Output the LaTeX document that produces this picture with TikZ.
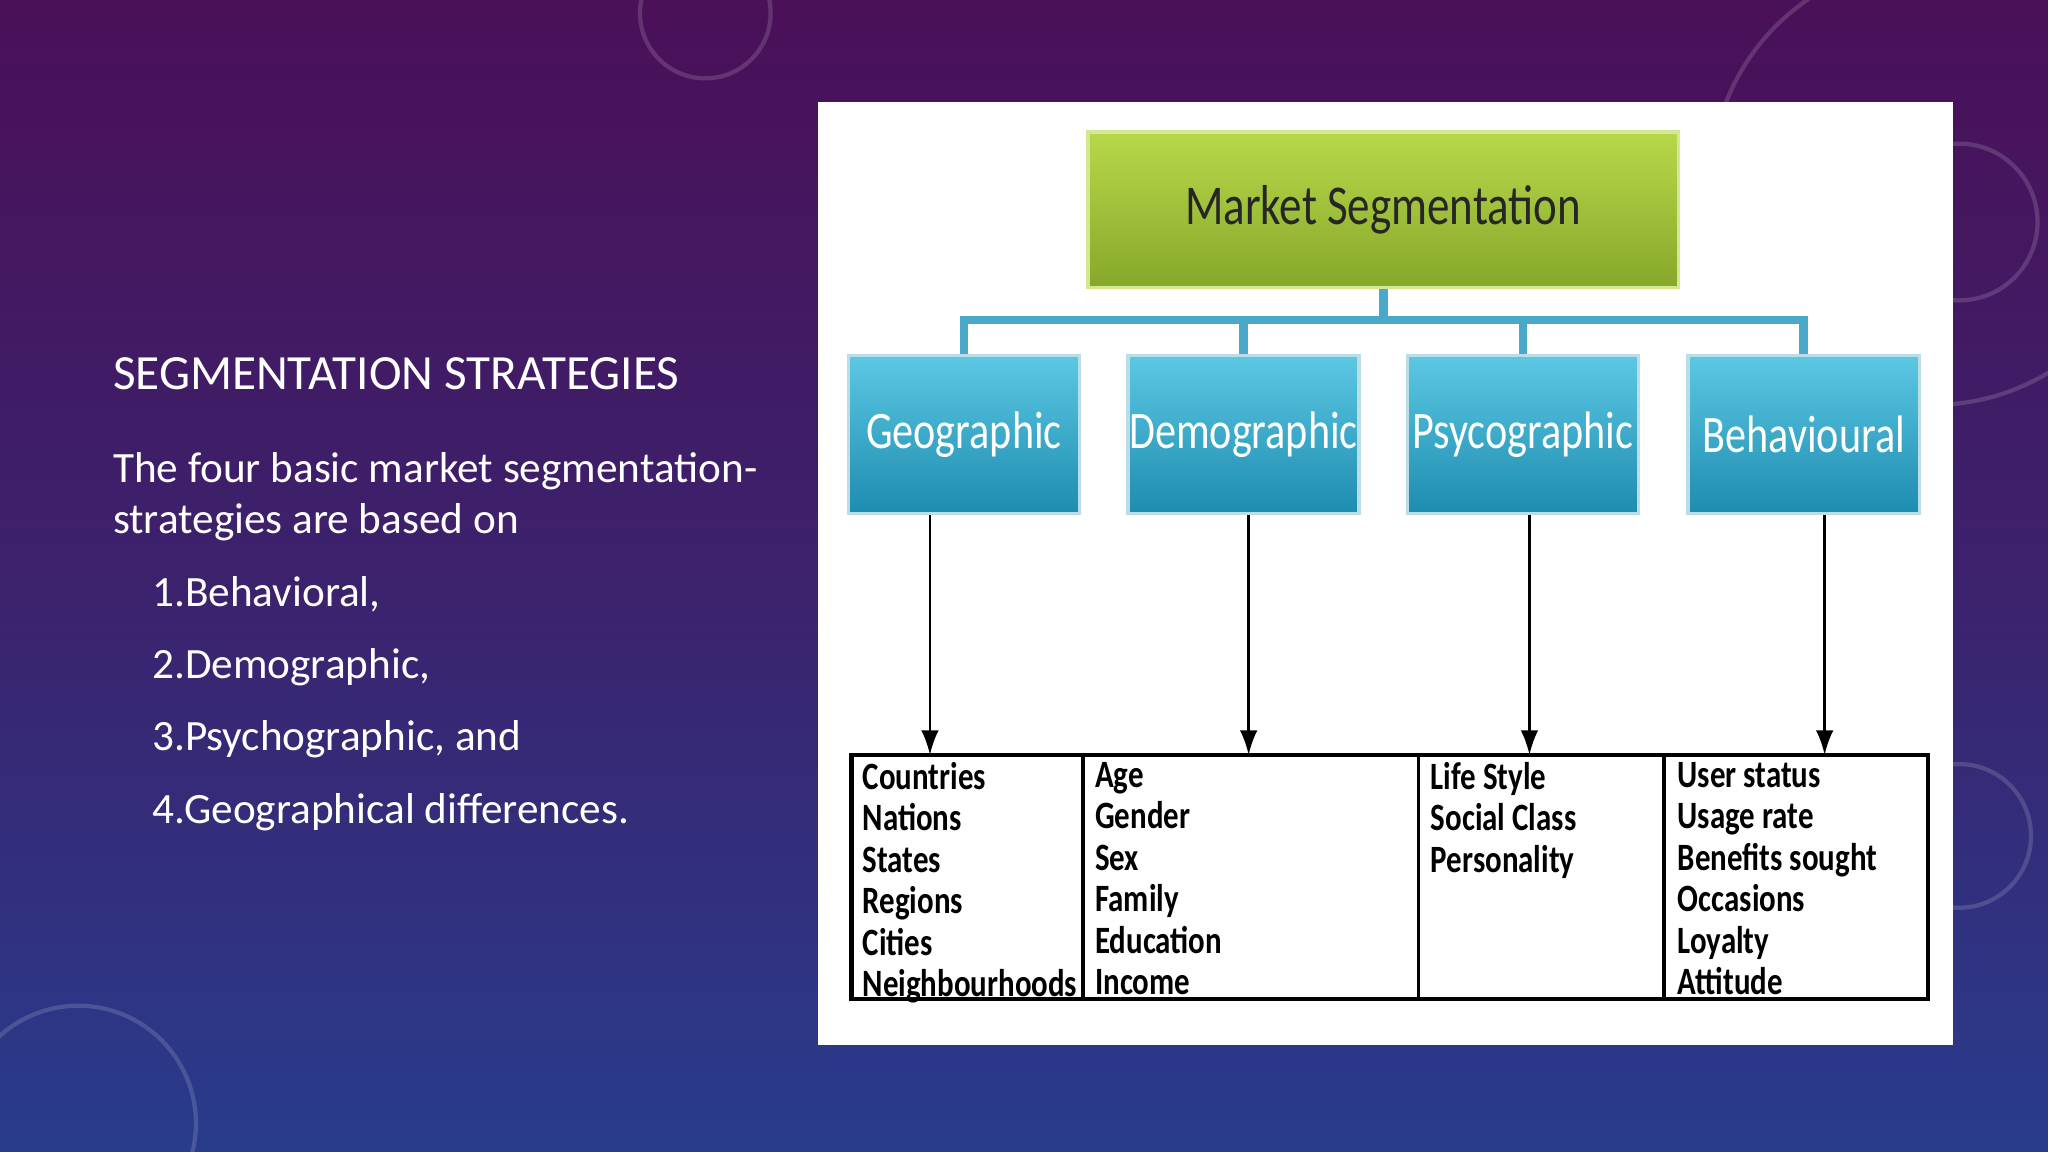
\documentclass[tikz,border=0pt]{standalone}
\usepackage{fontspec}
\setmainfont{Carlito}
\newfontfamily\cond[FakeStretch=0.8]{Carlito}
\usetikzlibrary{arrows.meta}
\definecolor{bgtop}{HTML}{4A1058}
\definecolor{bgbot}{HTML}{283C8C}
\definecolor{gtop}{HTML}{B8D84A}
\definecolor{gbot}{HTML}{86A82A}
\definecolor{btop}{HTML}{5CC8E4}
\definecolor{bbot}{HTML}{1E8CB0}
\definecolor{conn}{HTML}{4AA8C8}
\tikzset{
  catbox/.style={draw=white!70!bbot,line width=1pt,top color=btop,bottom color=bbot,text=white,font=\cond\fontsize{15}{17}\selectfont,inner sep=0pt},
  cell/.style={anchor=north west,align=left,font=\cond\bfseries\fontsize{11}{11.8}\selectfont,inner sep=0pt},
  lefttext/.style={anchor=west,text=white,font=\fontsize{12.3}{14.5}\selectfont,inner sep=0pt},
  deco/.style={white,opacity=0.15,line width=1.2pt}
}
\begin{document}
\begin{tikzpicture}[x=0.013061cm,y=-0.013061cm]
\shade[top color=bgtop,bottom color=bgbot,middle color=bgtop!60!bgbot] (0,0) rectangle (1568,882);
\useasboundingbox (0,0) rectangle (1568,882);
% decorative arcs
\draw[deco] (540,10) circle (50);
\draw[deco] (60,860) circle (90);
\draw[deco] (1500,170) circle (60);
\draw[deco] (1500,640) circle (55);
\draw[deco] (1480,140) circle (170);
% left text
\node[lefttext,font=\fontsize{14}{16}\selectfont] (title) at (86,286) {SEGMENTATION STRATEGIES};
\node[lefttext,anchor=north west,align=left] (body) at (86,346) {The four basic market segmentation-\\strategies are based on};
\node[lefttext] (i1) at (116,455) {1.Behavioral,};
\node[lefttext] (i2) at (116,511) {2.Demographic,};
\node[lefttext] (i3) at (116,566) {3.Psychographic, and};
\node[lefttext] (i4) at (116,622) {4.Geographical differences.};
% panel
\fill[white] (626,78) rectangle (1495,800);
% root
\node[draw=gtop!60!white,line width=1pt,top color=gtop,bottom color=gbot,minimum width=452*0.013061cm,minimum height=119*0.013061cm,font=\cond\fontsize{16}{18}\selectfont,text=black!85] (root) at (1059,160.5) {Market Segmentation};
% category boxes
\foreach \n/\x/\t in {geo/738/Geographic,dem/952/Demographic,psy/1166/Psycographic,beh/1381/Behavioural}{
  \node[catbox,minimum width=177*0.013061cm,minimum height=121*0.013061cm] (\n) at (\x,332.5) {\t};
}
\coordinate (hub) at (1059,245);
\draw[conn,line width=2.5pt] (root.south) -- (hub);
\draw[conn,line width=2.5pt] (geo.north) |- (hub) -| (beh.north);
\draw[conn,line width=2.5pt] (dem.north) -- (dem.north |- hub);
\draw[conn,line width=2.5pt] (psy.north) -- (psy.north |- hub);
% table
\draw[line width=1.3pt] (652,578) rectangle (1476,765);
\foreach \x in {829,1086,1274} \draw[line width=1pt] (\x,578) -- (\x,765);
\coordinate (tg) at (712,578);
\coordinate (td) at (956,578);
\coordinate (tp) at (1171,578);
\coordinate (tb) at (1397,578);
\foreach \s/\t in {geo/tg,dem/td,psy/tp,beh/tb}
  \draw[-{Latex[length=7pt,width=5pt]},line width=0.7pt] (\s.south -| \t) -- (\t);
\node[cell] (c1) at (660,583) {Countries\\Nations\\States\\Regions\\Cities\\Neighbourhoods};
\node[cell] (c2) at (838,583) {Age\\Gender\\Sex\\Family\\Education\\Income};
\node[cell] (c3) at (1095,583) {Life Style\\Social Class\\Personality};
\node[cell] (c4) at (1284,583) {User status\\Usage rate\\Benefits sought\\Occasions\\Loyalty\\Attitude};
\end{tikzpicture}
\end{document}
